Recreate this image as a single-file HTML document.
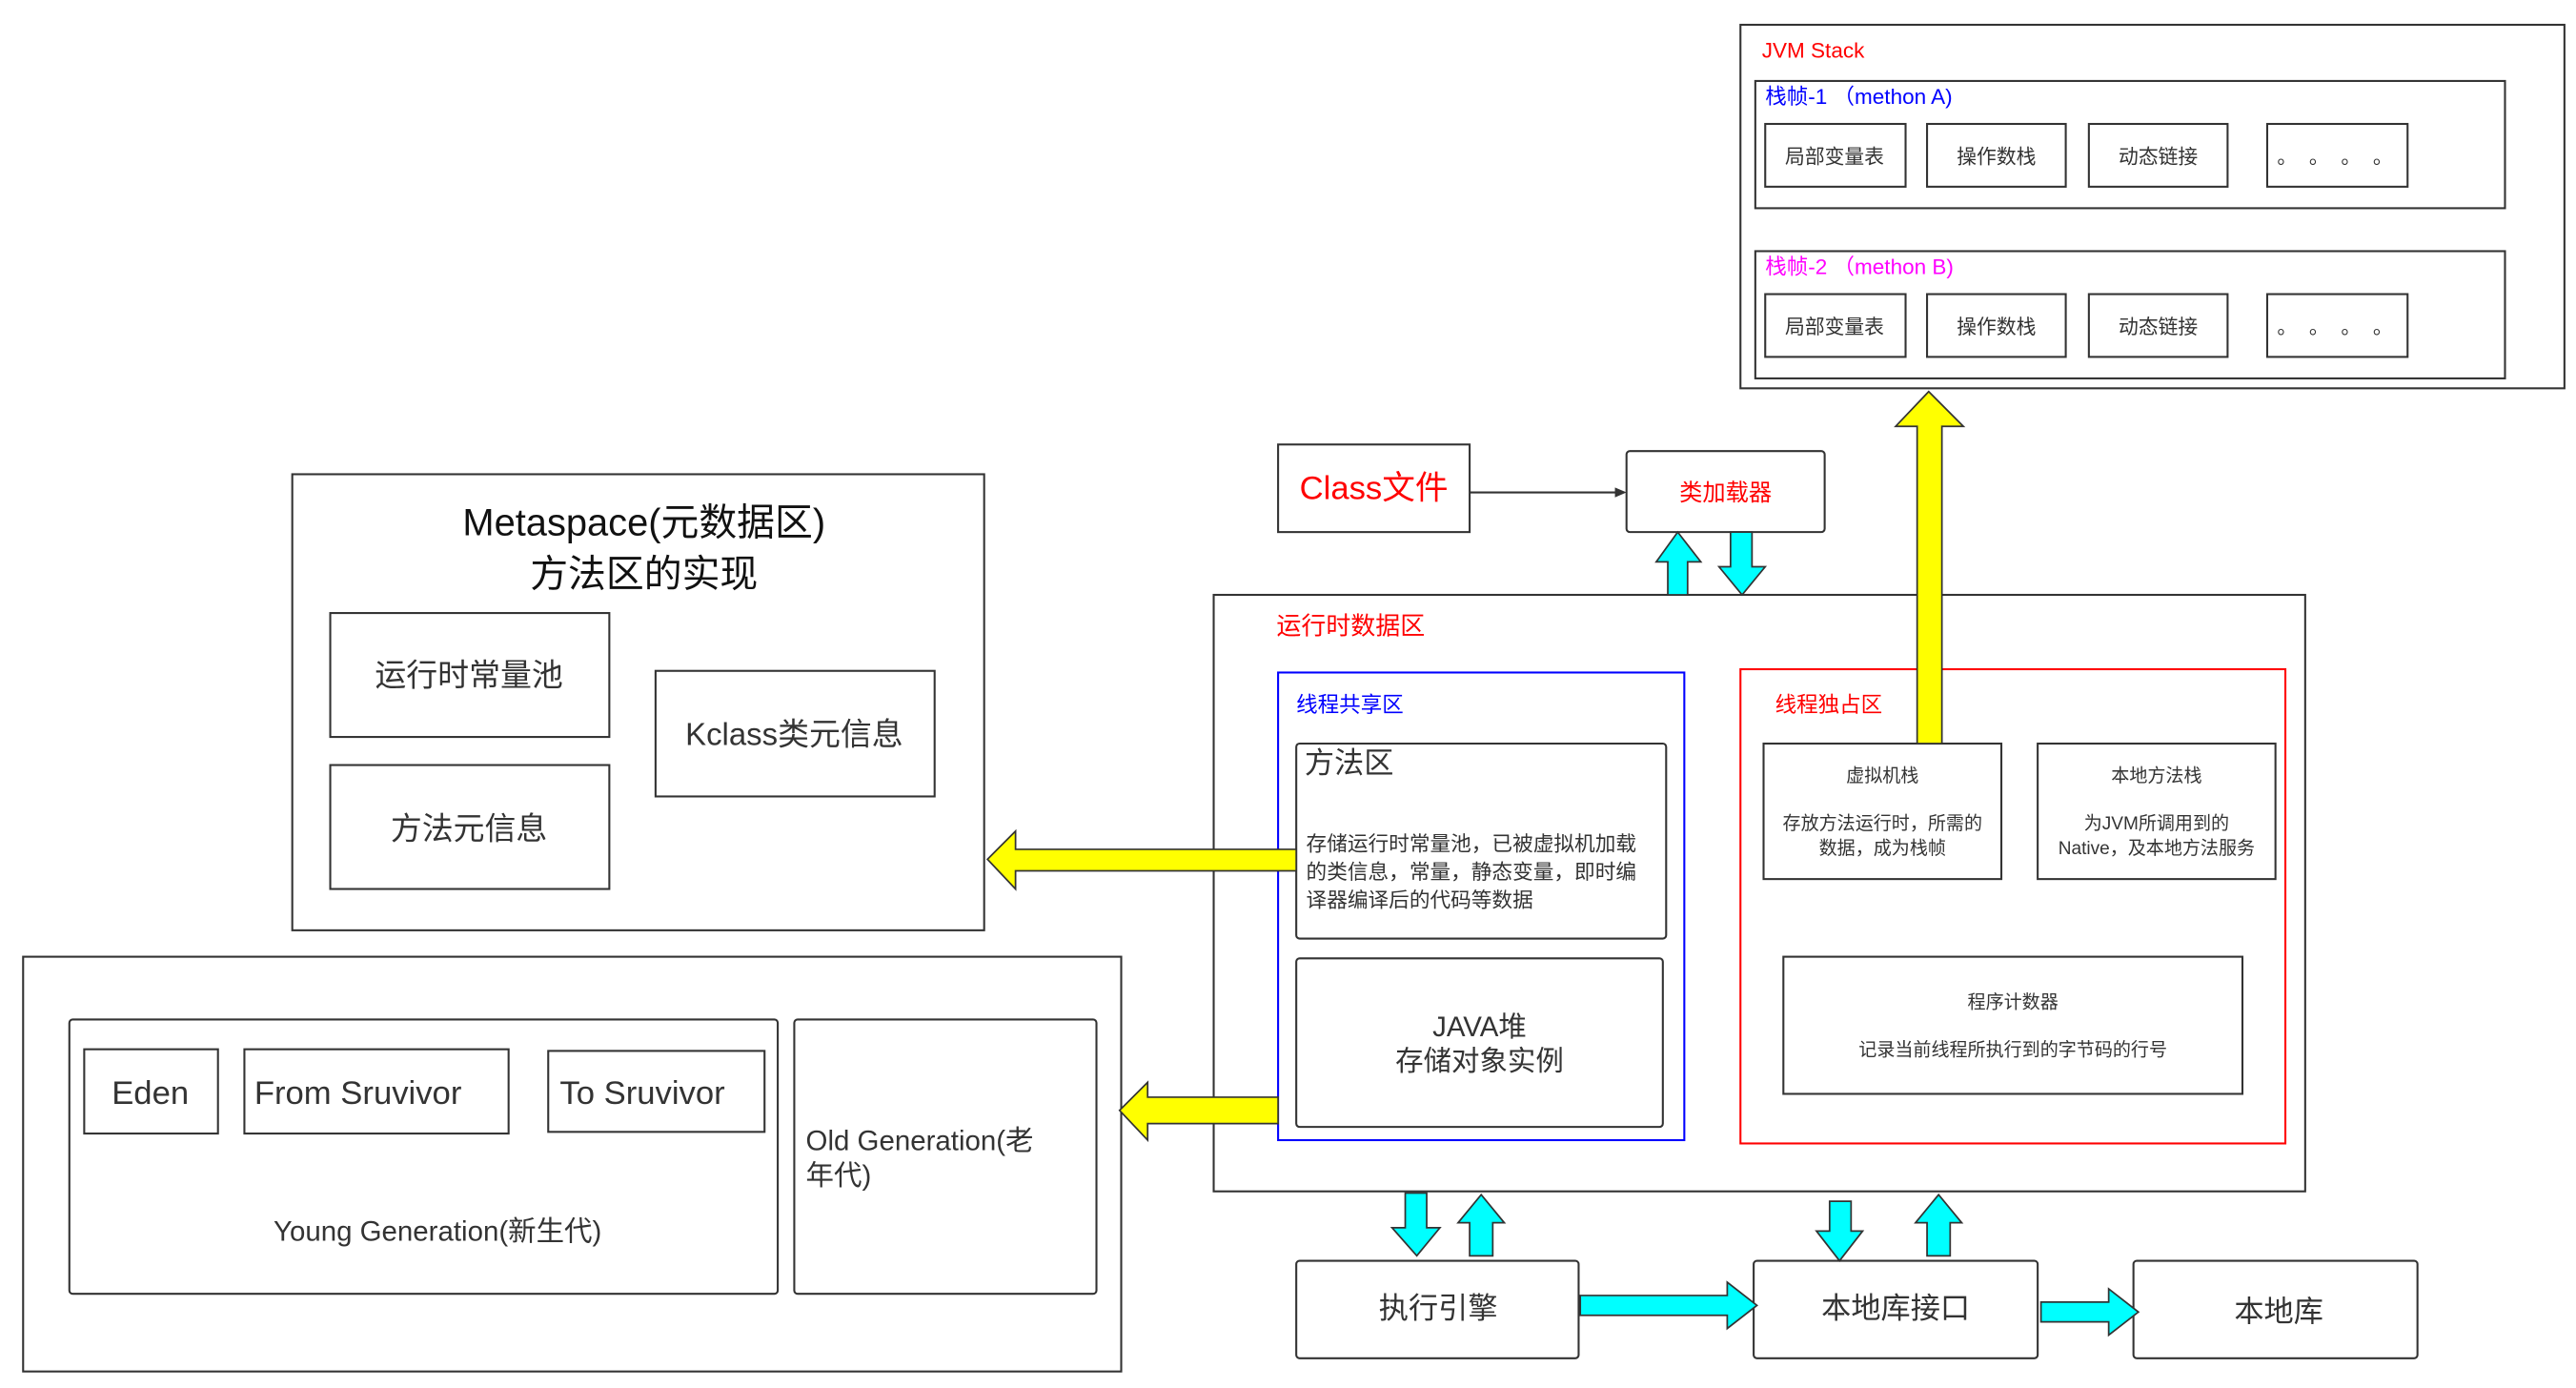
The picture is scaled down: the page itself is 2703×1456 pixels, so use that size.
<!DOCTYPE html>
<html><head><meta charset="utf-8"><style>
html,body{margin:0;padding:0;background:#fff;}
svg{display:block;}
text{font-family:"Liberation Sans","Noto Sans CJK SC",sans-serif;}
</style></head><body>
<svg width="2703" height="1456" viewBox="0 0 1560 840" preserveAspectRatio="none" xmlns="http://www.w3.org/2000/svg">
<g fill="none" stroke="#333" stroke-width="1.2">
<rect x="1054" y="15" width="499" height="220"/>
<rect x="1063" y="49" width="454" height="77"/>
<rect x="1063" y="152" width="454" height="77"/>
<rect x="1069" y="75" width="85" height="38"/><rect x="1167" y="75" width="84" height="38"/><rect x="1265" y="75" width="84" height="38"/><rect x="1373" y="75" width="85" height="38"/>
<rect x="1069" y="178" width="85" height="38"/><rect x="1167" y="178" width="84" height="38"/><rect x="1265" y="178" width="84" height="38"/><rect x="1373" y="178" width="85" height="38"/>
<rect x="774" y="269" width="116" height="53"/>
<rect x="985" y="273" width="120" height="49" rx="2"/>
<rect x="735" y="360" width="661" height="361"/>
<rect x="774" y="407" width="246" height="283" stroke="#00f"/>
<rect x="1054" y="405" width="330" height="287" stroke="#f00"/>
<rect x="785" y="450" width="224" height="118" rx="2"/>
<rect x="785" y="580" width="222" height="102" rx="2"/>
<rect x="1068" y="450" width="144" height="82"/>
<rect x="1234" y="450" width="144" height="82"/>
<rect x="1080" y="579" width="278" height="83"/>
<rect x="177" y="287" width="419" height="276"/>
<rect x="200" y="371" width="169" height="75"/>
<rect x="200" y="463" width="169" height="75"/>
<rect x="397" y="406" width="169" height="76"/>
<rect x="14" y="579" width="665" height="251"/>
<rect x="42" y="617" width="429" height="166" rx="2"/>
<rect x="481" y="617" width="183" height="166" rx="2"/>
<rect x="51" y="635" width="81" height="51"/>
<rect x="148" y="635" width="160" height="51"/>
<rect x="332" y="636" width="131" height="49"/>
<rect x="785" y="763" width="171" height="59" rx="2"/>
<rect x="1062" y="763" width="172" height="59" rx="2"/>
<rect x="1292" y="763" width="172" height="59" rx="2"/>
</g>
<line x1="890" y1="298" x2="980" y2="298" stroke="#333" stroke-width="1.2"/>
<polygon points="985,298 978,295 978,301" fill="#333"/>
<g fill="#ff0" stroke="#333" stroke-width="1">
<polygon points="1161,450 1161,258 1148,258 1168,237 1189,258 1176,258 1176,450"/>
<polygon points="785,514 615,514 615,503 598,520 615,538 615,527 785,527"/>
<polygon points="774,664 695,664 695,655 678,672 695,690 695,680 774,680"/>
</g>
<g fill="#0ff" stroke="#333" stroke-width="1">
<polygon points="1010,360 1010,340 1003,340 1016,322 1030,340 1022,340 1022,360"/>
<polygon points="1048,322 1048,343 1041,343 1055,360 1069,343 1061,343 1061,322"/>
<polygon points="851,722 851,743 843,743 858,760 872,743 864,743 864,722"/>
<polygon points="890,760 890,740 883,740 897,723 911,740 904,740 904,760"/>
<polygon points="1108,727 1108,745 1100,745 1114,763 1128,745 1121,745 1121,727"/>
<polygon points="1167,760 1167,740 1160,740 1174,723 1188,740 1181,740 1181,760"/>
<polygon points="957,784 1046,784 1046,776 1064,790 1046,804 1046,796 957,796"/>
<polygon points="1236,788 1277,788 1277,780 1295,794 1277,808 1277,800 1236,800"/>
</g>
<g fill="#333">
<text x="1067" y="35" font-size="13" fill="#f00">JVM Stack</text>
<text x="1069" y="63" font-size="13" fill="#00f">栈帧-1 （methon A)</text>
<text x="1069" y="166" font-size="13" fill="#f0f">栈帧-2 （methon B)</text>
<g font-size="12" text-anchor="middle">
<text x="1111" y="99">局部变量表</text><text x="1209" y="99">操作数栈</text><text x="1307" y="99">动态链接</text><text x="1415" y="99" letter-spacing="2">。 。 。 。</text>
<text x="1111" y="202">局部变量表</text><text x="1209" y="202">操作数栈</text><text x="1307" y="202">动态链接</text><text x="1415" y="202" letter-spacing="2">。 。 。 。</text>
</g>
<text x="832" y="302" font-size="20" fill="#f00" text-anchor="middle">Class文件</text>
<text x="1045" y="303" font-size="14" fill="#f00" text-anchor="middle">类加载器</text>
<text x="773" y="384" font-size="15" fill="#f00">运行时数据区</text>
<text x="785" y="431" font-size="13" fill="#00f">线程共享区</text>
<text x="1075" y="431" font-size="13" fill="#f00">线程独占区</text>
<text x="790" y="468" font-size="18">方法区</text>
<g font-size="12.5"><text x="791" y="515">存储运行时常量池，已被虚拟机加载</text><text x="791" y="532">的类信息，常量，静态变量，即时编</text><text x="791" y="549">译器编译后的代码等数据</text></g>
<g font-size="17" text-anchor="middle"><text x="896" y="627">JAVA堆</text><text x="896" y="648">存储对象实例</text></g>
<g font-size="11" text-anchor="middle">
<text x="1140" y="473">虚拟机栈</text><text x="1140" y="502">存放方法运行时，所需的</text><text x="1140" y="517">数据，成为栈帧</text>
<text x="1306" y="473">本地方法栈</text><text x="1306" y="502">为JVM所调用到的</text><text x="1306" y="517">Native，及本地方法服务</text>
<text x="1219" y="610">程序计数器</text><text x="1219" y="639">记录当前线程所执行到的字节码的行号</text>
</g>
<g font-size="23" text-anchor="middle" fill="#111"><text x="390" y="324">Metaspace(元数据区)</text><text x="390" y="355">方法区的实现</text></g>
<g font-size="19" text-anchor="middle"><text x="284" y="415">运行时常量池</text><text x="284" y="508">方法元信息</text><text x="481" y="451">Kclass类元信息</text></g>
<g font-size="20"><text x="91" y="668" text-anchor="middle">Eden</text><text x="154" y="668">From Sruvivor</text><text x="339" y="668">To Sruvivor</text></g>
<text x="265" y="751" font-size="17" text-anchor="middle">Young  Generation(新生代)</text>
<text x="488" y="696" font-size="17">Old  Generation(老</text><text x="488" y="717" font-size="17">年代)</text>
<g font-size="18" text-anchor="middle"><text x="871" y="798">执行引擎</text><text x="1148" y="798">本地库接口</text><text x="1380" y="800">本地库</text></g>
</g>
</svg>
</body></html>
